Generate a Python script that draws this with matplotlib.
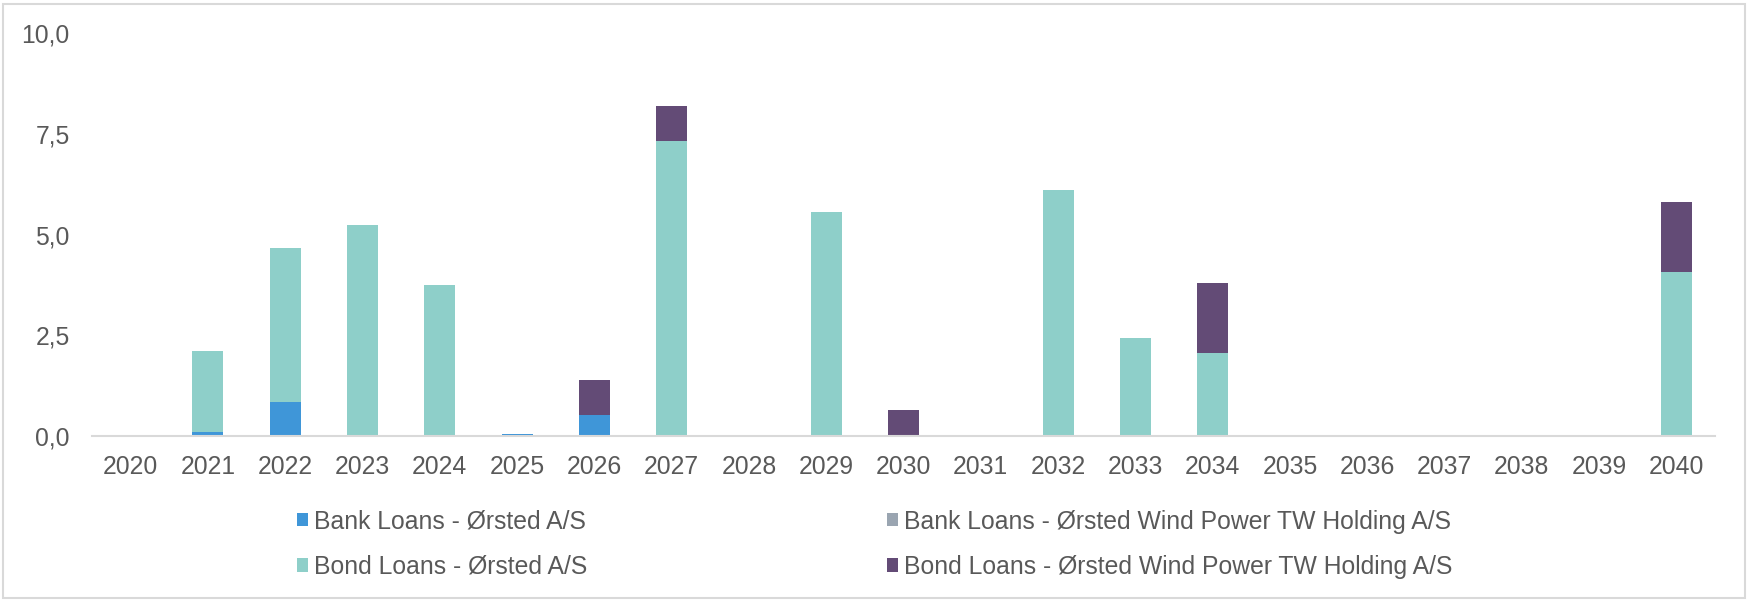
import matplotlib.pyplot as plt
from matplotlib.patches import Rectangle
from matplotlib.ticker import FuncFormatter

plt.rcParams['font.family'] = ['Liberation Sans', 'DejaVu Sans']

years = [str(y) for y in range(2020, 2041)]

bank_orsted = [0, 0.09, 0.83, 0.03, 0.03, 0.04, 0.51, 0, 0, 0, 0,
               0, 0, 0, 0, 0, 0, 0, 0, 0, 0]
bank_tw = [0] * 21
bond_orsted = [0, 2.02, 3.85, 5.22, 3.72, 0, 0, 7.33, 0, 5.57, 0,
               0, 6.12, 2.43, 2.06, 0, 0, 0, 0, 0, 4.08]
bond_tw = [0, 0, 0, 0, 0, 0, 0.87, 0.86, 0, 0, 0.64,
           0, 0, 0, 1.75, 0, 0, 0, 0, 0, 1.74]

labels = ['Bank Loans - Ørsted A/S',
          'Bank Loans - Ørsted Wind Power TW Holding A/S',
          'Bond Loans - Ørsted A/S',
          'Bond Loans - Ørsted Wind Power TW Holding A/S']
colors = ['#3F96D8', '#9AA5B1', '#8ECFC9', '#634B76']
series = [bank_orsted, bank_tw, bond_orsted, bond_tw]

text_color = '#595959'
fs = 17.8

fig = plt.figure(figsize=(17.52, 6.02), dpi=100)
ax = fig.add_axes([92 / 1752, 166.2 / 602, (1715 - 92) / 1752, (435.8 - 33.5) / 602])

x = list(range(len(years)))
bottom = [0.0] * len(years)
handles = []
for vals, lab, col in zip(series, labels, colors):
    b = ax.bar(x, vals, 0.4, bottom=bottom, color=col, label=lab, zorder=2)
    handles.append(b)
    bottom = [b0 + v for b0, v in zip(bottom, vals)]

ax.set_xlim(-0.5, len(years) - 0.5)
ax.set_ylim(0, 10)
ax.set_yticks([0, 2.5, 5, 7.5, 10])
ax.yaxis.set_major_formatter(FuncFormatter(lambda v, p: f'{v:.1f}'.replace('.', ',')))
ax.set_xticks(x)
ax.set_xticklabels(years)
ax.tick_params(axis='both', length=0, labelsize=fs, colors=text_color)
ax.tick_params(axis='y', pad=16)
ax.tick_params(axis='x', pad=13.5)

for s in ['top', 'right', 'left']:
    ax.spines[s].set_visible(False)
ax.spines['bottom'].set_color('#D9D9D9')
ax.spines['bottom'].set_linewidth(1.5)
ax.spines['bottom'].set_zorder(3)

# legend fills column by column, so reorder to get rows like the reference
order = [0, 2, 1, 3]
leg = fig.legend(handles=[handles[i] for i in order],
                 labels=[labels[i] for i in order], ncol=2, loc='upper left',
                 bbox_to_anchor=(297 / 1752, 1 - 509.5 / 602), frameon=False,
                 fontsize=fs, handlelength=0.45, handleheight=0.45,
                 handletextpad=0.25, columnspacing=12.1, labelspacing=0.86,
                 borderpad=0, borderaxespad=0)
for t in leg.get_texts():
    t.set_color(text_color)

# chart area border
fig.patches.append(Rectangle((3 / 1752, 4 / 602), 1742 / 1752, 594 / 602,
                             transform=fig.transFigure, fill=False,
                             edgecolor='#D9D9D9', linewidth=1.5))

fig.savefig('out.png', dpi=100)
